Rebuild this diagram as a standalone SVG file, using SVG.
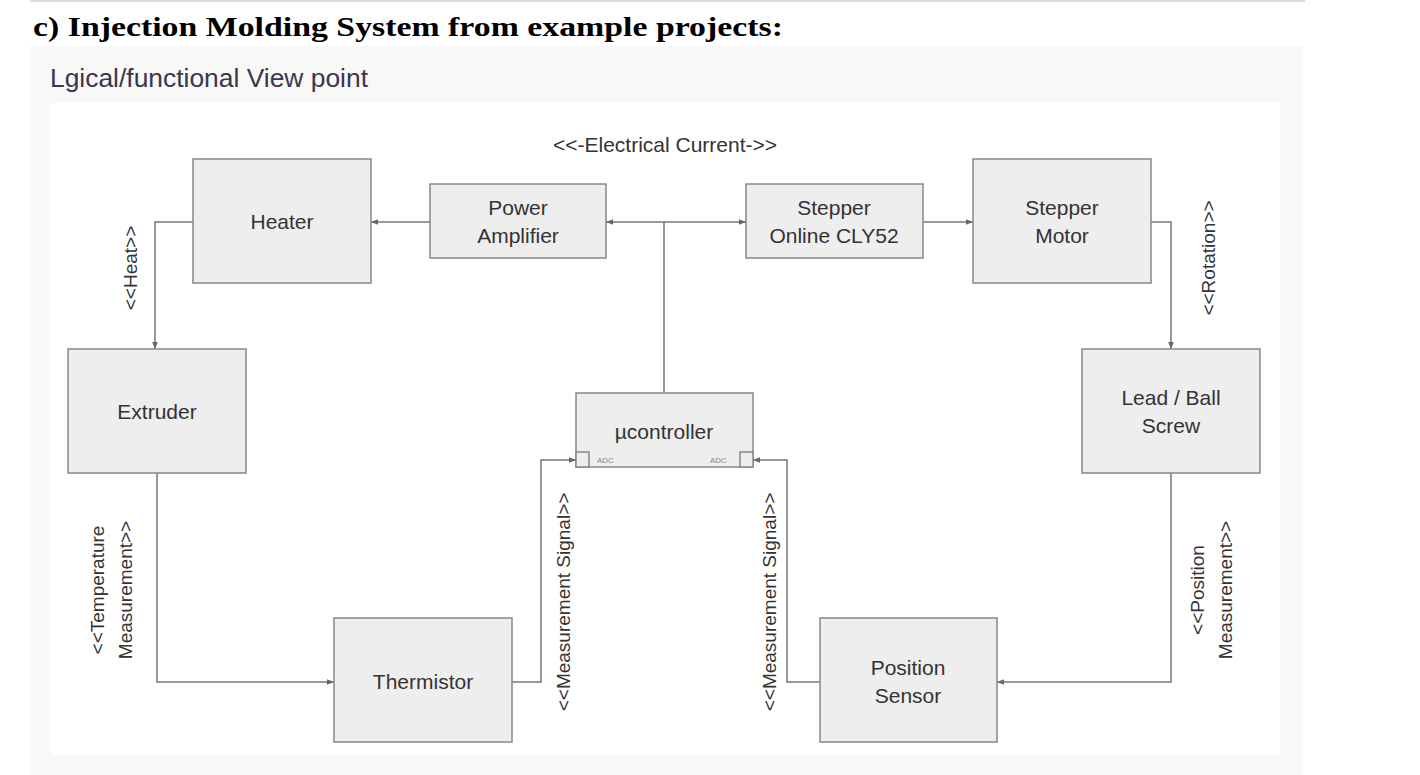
<svg xmlns="http://www.w3.org/2000/svg" width="1420" height="775" viewBox="0 0 1420 775">
<defs>
<style>
.n{fill:#eeeeee;stroke:#888;stroke-width:1.5}
.t{font-family:"Liberation Sans",Arial,sans-serif;font-size:21px;fill:#333;text-anchor:middle}
.l{font-family:"Liberation Sans",Arial,sans-serif;font-size:19px;fill:#333;text-anchor:middle}
.c{fill:none;stroke:#777;stroke-width:1.5;marker-end:url(#a)}
.s{fill:#888;font-family:"Liberation Sans",Arial,sans-serif;font-size:8px}
</style>
<marker id="a" viewBox="0 0 10 10" refX="10" refY="5" markerWidth="7" markerHeight="7" orient="auto" markerUnits="userSpaceOnUse"><path d="M0,1 L10,5 L0,9 z" fill="#666"/></marker>
</defs>
<rect width="1420" height="775" fill="#fff"/>
<line x1="30" y1="1" x2="1305" y2="1" stroke="#ddd" stroke-width="2"/>
<text x="33" y="36" font-family="Liberation Serif,serif" font-weight="bold" font-size="27" fill="#000" textLength="750" lengthAdjust="spacingAndGlyphs">c) Injection Molding System from example projects:</text>
<rect x="31" y="46" width="1272" height="729" fill="#f8f8f6"/>
<text x="50" y="87" font-family="Liberation Sans,Arial,sans-serif" font-size="25" fill="#3b3550" textLength="318" lengthAdjust="spacingAndGlyphs">Lgical/functional View point</text>
<rect x="50" y="103" width="1230" height="652" fill="#fff"/>
<text class="t" x="665" y="152">&lt;&lt;-Electrical Current-&gt;&gt;</text>
<g id="connectors">
<path class="c" d="M664,393 V222 H606"/>
<path class="c" d="M664,222 H746"/>
<path class="c" d="M430,222 H371"/>
<path class="c" d="M923,222 H973"/>
<path class="c" d="M193,222 H155 V349"/>
<path class="c" d="M1151,222 H1171 V349"/>
<path class="c" d="M157,473 V682 H334"/>
<path class="c" d="M1171,473 V682 H997"/>
<path class="c" d="M512,682 H541 V460 H576"/>
<path class="c" d="M820,682 H787 V460 H753"/>
<text class="l" transform="translate(137,268) rotate(-90)">&lt;&lt;Heat&gt;&gt;</text>
<text class="l" transform="translate(1215,258) rotate(-90)">&lt;&lt;Rotation&gt;&gt;</text>
<text class="l" transform="translate(104,590) rotate(-90)">&lt;&lt;Temperature</text>
<text class="l" transform="translate(132,590) rotate(-90)">Measurement&gt;&gt;</text>
<text class="l" transform="translate(1204,590) rotate(-90)">&lt;&lt;Position</text>
<text class="l" transform="translate(1232,590) rotate(-90)">Measurement&gt;&gt;</text>
<text class="l" transform="translate(570,602) rotate(-90)">&lt;&lt;Measurement Signal&gt;&gt;</text>
<text class="l" transform="translate(776,602) rotate(-90)">&lt;&lt;Measurement Signal&gt;&gt;</text>
</g>
<g id="heater"><rect class="n" x="193" y="159" width="178" height="124"/><text class="t" x="282" y="229">Heater</text></g>
<g id="power-amplifier"><rect class="n" x="430" y="184" width="176" height="74"/><text class="t" x="518" y="215">Power</text><text class="t" x="518" y="243">Amplifier</text></g>
<g id="stepper-online"><rect class="n" x="746" y="184" width="177" height="74"/><text class="t" x="834" y="215">Stepper</text><text class="t" x="834" y="243">Online CLY52</text></g>
<g id="stepper-motor"><rect class="n" x="973" y="159" width="178" height="124"/><text class="t" x="1062" y="215">Stepper</text><text class="t" x="1062" y="243">Motor</text></g>
<g id="extruder"><rect class="n" x="68" y="349" width="178" height="124"/><text class="t" x="157" y="419">Extruder</text></g>
<g id="lead-screw"><rect class="n" x="1082" y="349" width="178" height="124"/><text class="t" x="1171" y="405">Lead / Ball</text><text class="t" x="1171" y="433">Screw</text></g>
<g id="ucontroller"><rect class="n" x="576" y="393" width="177" height="74"/><text class="t" x="664" y="439">µcontroller</text>
<rect class="n" x="576" y="452" width="13" height="15"/><rect class="n" x="740" y="452" width="13" height="15"/>
<text class="s" x="597" y="463">ADC</text><text class="s" x="710" y="463">ADC</text></g>
<g id="thermistor"><rect class="n" x="334" y="618" width="178" height="124"/><text class="t" x="423" y="689">Thermistor</text></g>
<g id="position-sensor"><rect class="n" x="820" y="618" width="177" height="124"/><text class="t" x="908" y="675">Position</text><text class="t" x="908" y="703">Sensor</text></g>
</svg>
